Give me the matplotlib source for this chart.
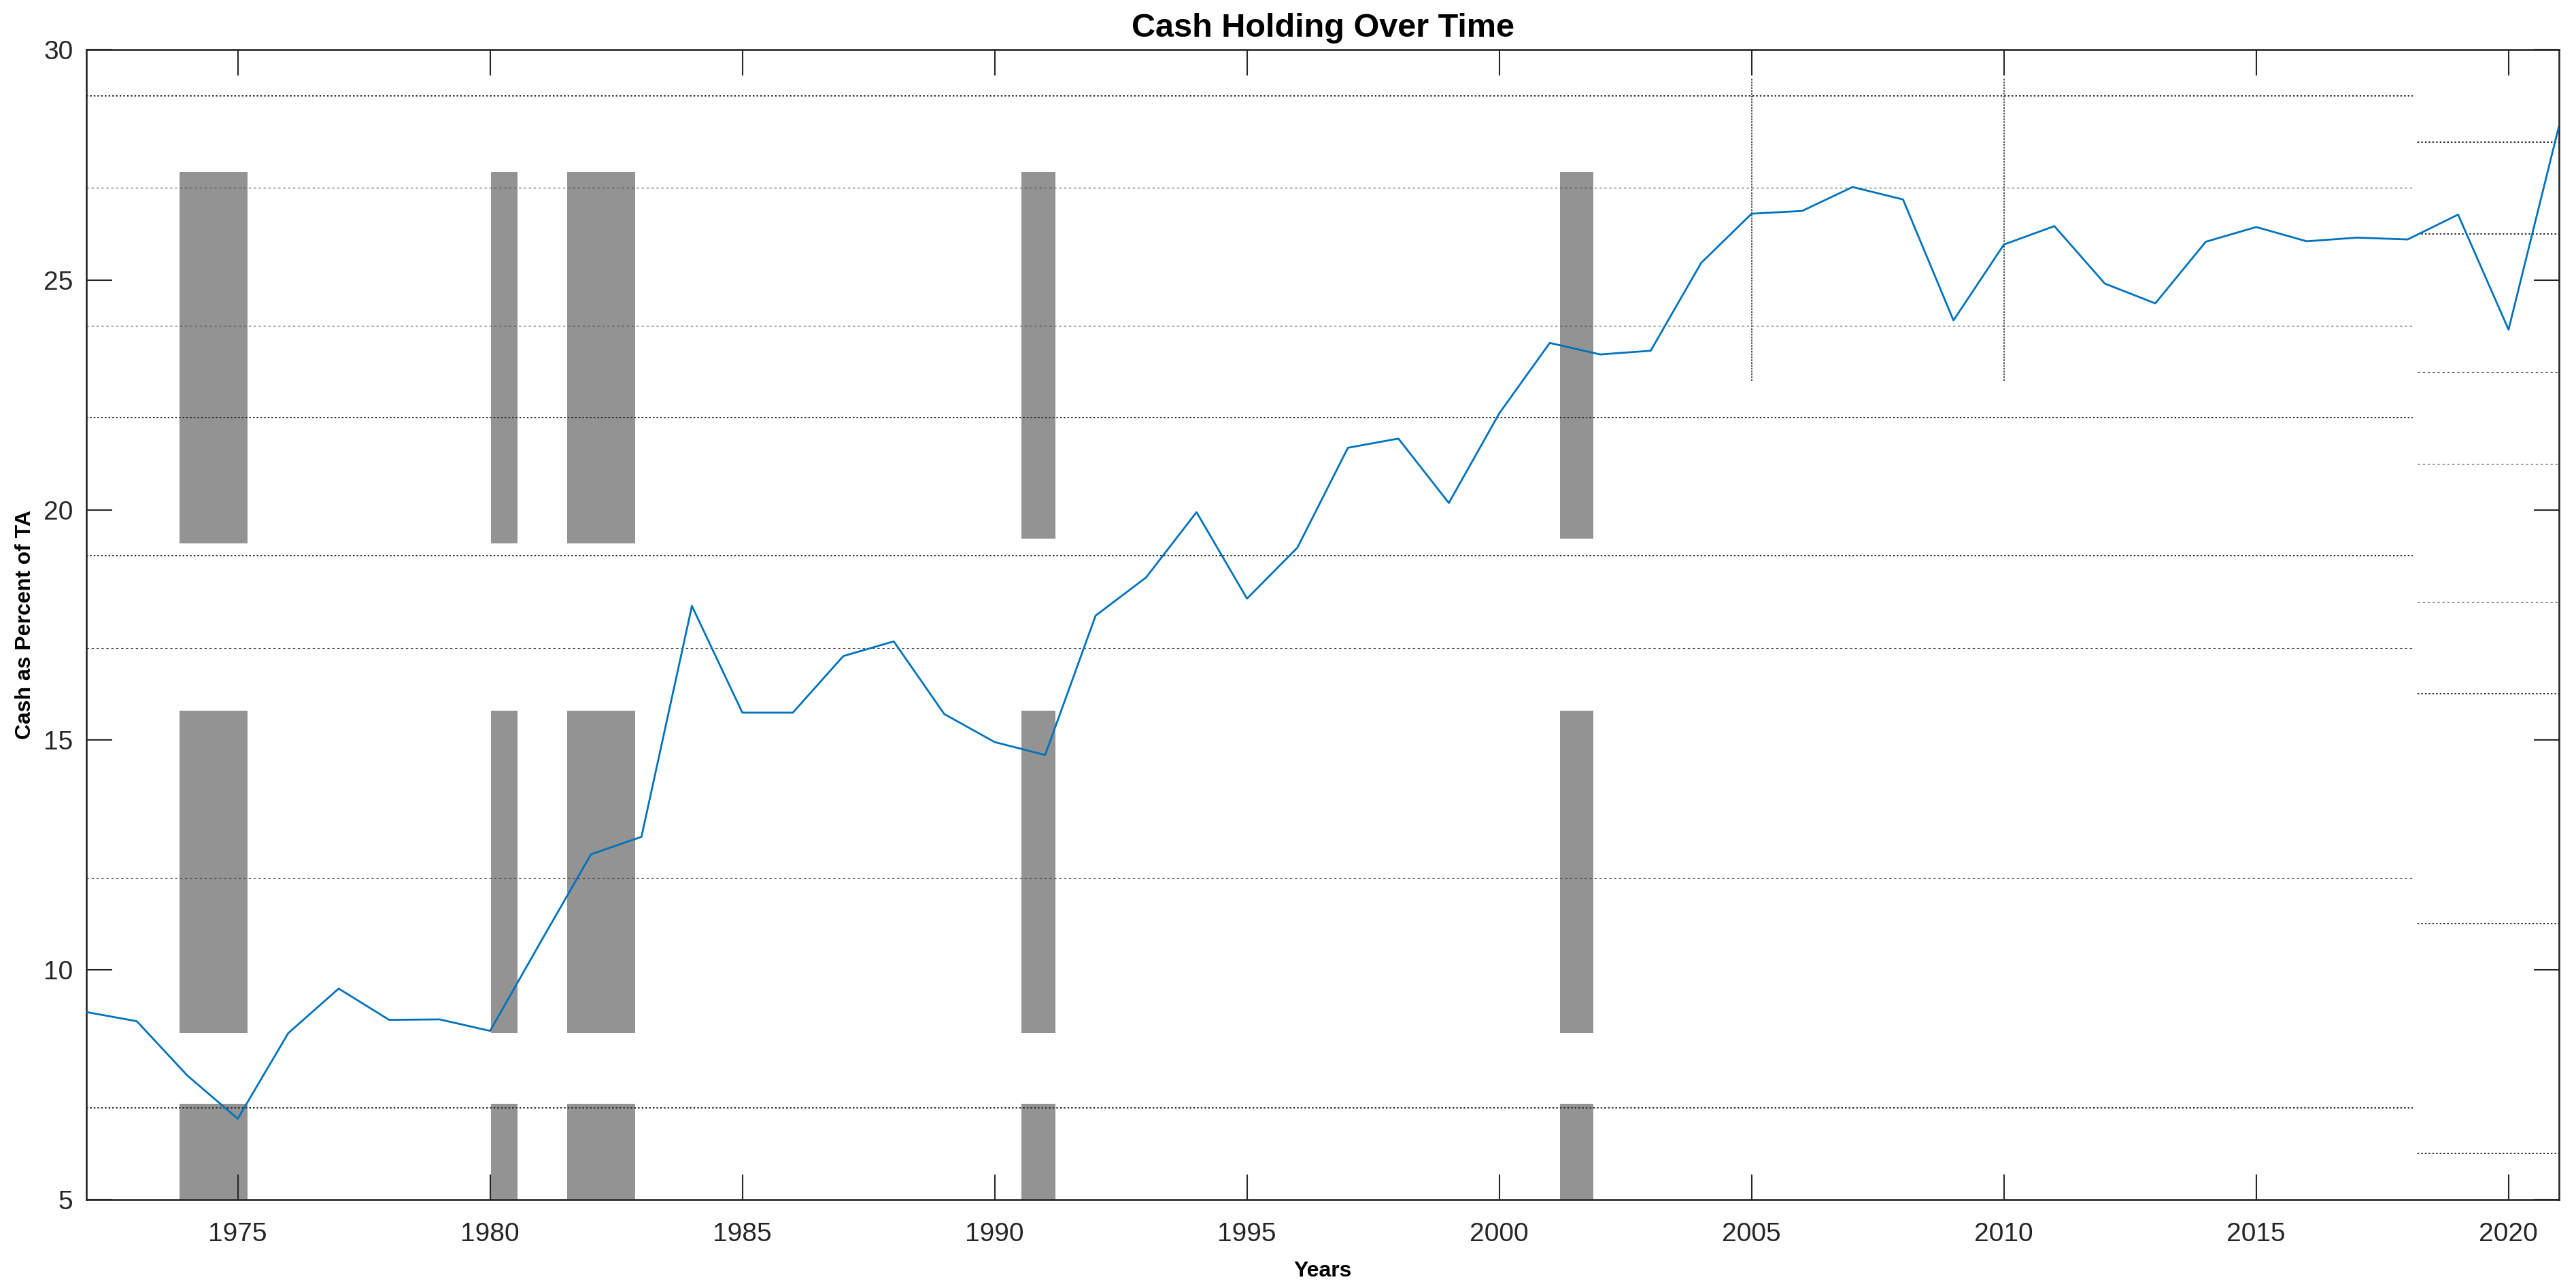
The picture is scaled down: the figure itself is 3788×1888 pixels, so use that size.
import matplotlib
matplotlib.use('Agg')
import matplotlib.pyplot as plt
import numpy as np

plt.rcParams['font.family'] = ['Liberation Sans', 'DejaVu Sans']

# cash holding (% of total assets), 1972-2021
years = np.arange(1972, 2022)
cash = [9.08, 8.88, 7.70, 6.76, 8.62, 9.59, 8.91, 8.92, 8.67, 10.60,
        12.51, 12.89, 17.91, 15.59, 15.59, 16.82, 17.14, 15.56, 14.95, 14.67,
        17.70, 18.53, 19.95, 18.07, 19.18, 21.35, 21.55, 20.15, 22.10, 23.63,
        23.38, 23.46, 25.37, 26.44, 26.50, 27.02, 26.75, 24.12, 25.77, 26.17,
        24.92, 24.49, 25.83, 26.15, 25.84, 25.92, 25.88, 26.42, 23.92, 28.35]

# recession shading (drawn in broken pieces as in the exported figure)
rec_start = [1973.85, 1980.02, 1981.53, 1990.53, 2001.20]
rec_end = [1975.19, 1980.54, 1982.87, 1991.20, 2001.87]
rec_upper_low = [19.27, 19.27, 19.27, 19.38, 19.38]
rec_pieces = [(5.0, 7.08), (8.62, 15.63)]
rec_top = 27.34

# leftover dotted lines from the export
hl_left = [29, 27, 24, 22, 19, 17, 12, 7]
hl_left_dark = [True, False, False, True, True, False, False, True]
hl_right = [28, 26, 23, 21, 18, 16, 11, 6]
hl_right_dark = [True, True, False, False, False, True, True, True]
vl_x = [2005, 2010]
vl_range = (22.8, 29.4)

AX = '#262626'

fig = plt.figure(figsize=(37.88, 18.88), dpi=100)
ax = fig.add_axes([0.03353, 0.06568, 0.95987, 0.89539])

for s, e, lo in zip(rec_start, rec_end, rec_upper_low):
    for a, b in rec_pieces + [(lo, rec_top)]:
        ax.fill_between([s, e], a, b, color='#939393', linewidth=0, zorder=1)

for y, dark in zip(hl_left, hl_left_dark):
    if dark:
        ax.hlines(y, 1972, 2018.1, color='#222222', linewidth=1.4, linestyles=(0, (1.2, 1.6)), zorder=2)
    else:
        ax.hlines(y, 1972, 2018.1, color='#444444', linewidth=0.8, linestyles=(0, (3, 3.5)), zorder=2)
for y, dark in zip(hl_right, hl_right_dark):
    if dark:
        ax.hlines(y, 2018.2, 2021, color='#222222', linewidth=1.4, linestyles=(0, (1.2, 1.6)), zorder=2)
    else:
        ax.hlines(y, 2018.2, 2021, color='#444444', linewidth=0.8, linestyles=(0, (3, 3.5)), zorder=2)

ax.vlines(vl_x, vl_range[0], vl_range[1], color='#333333', linewidth=1.2, linestyles=(0, (1.5, 1)), zorder=2)

ax.plot(years, cash, color='#0072BD', linewidth=2.0, zorder=3)

ax.set_xlim(1972, 2021)
ax.set_ylim(5, 30)
ax.set_xticks(np.arange(1975, 2021, 5))
ax.set_yticks(np.arange(5, 31, 5))

for sp in ax.spines.values():
    sp.set_color(AX)
    sp.set_linewidth(1.9)
ax.tick_params(axis='both', direction='in', length=27, width=1.5, color=AX,
               labelcolor=AX, labelsize=28, top=True, right=True)
ax.tick_params(axis='x', pad=24)
ax.tick_params(axis='y', pad=14)

ax.set_title('Cash Holding Over Time', fontsize=35, fontweight='bold', pad=14)
ax.set_xlabel('Years', fontsize=23, fontweight='bold', va='baseline')
ax.xaxis.set_label_coords(0.5, -0.0668)
ax.set_ylabel('Cash as Percent of TA', fontsize=23, fontweight='bold', va='baseline')
ax.yaxis.set_label_coords(-0.02255, 0.5)

plt.savefig('out.png', dpi=100)
